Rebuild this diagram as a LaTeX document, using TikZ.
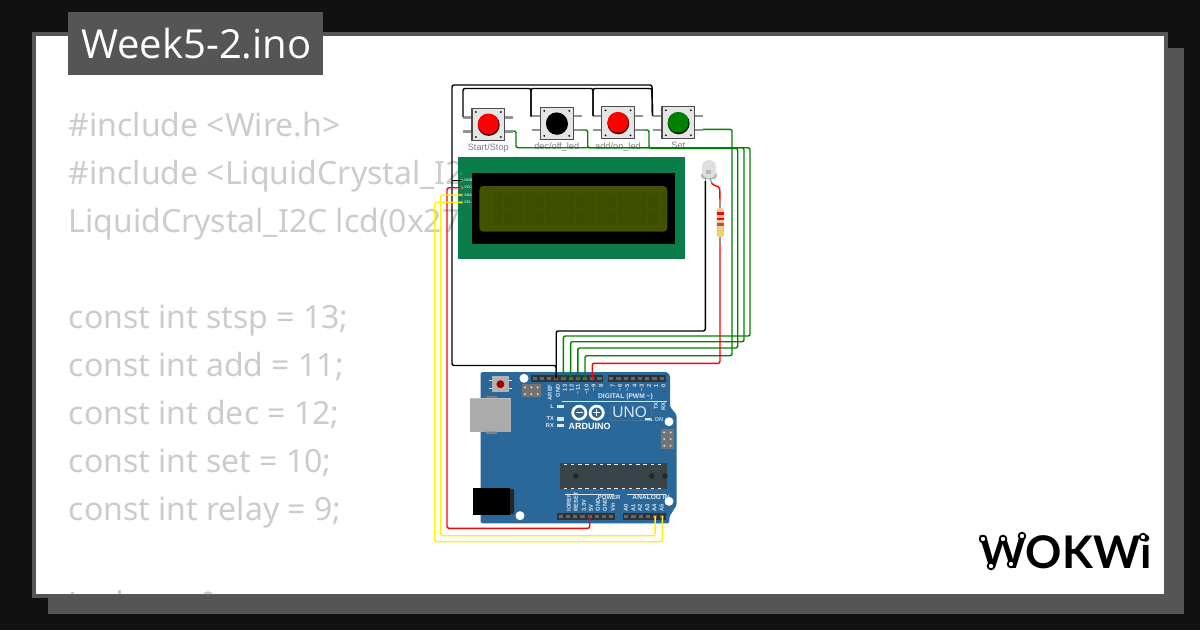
\documentclass[tikz,border=0pt]{standalone}
\usepackage{fontspec}
\setmainfont{Liberation Sans}
\newfontfamily\codefont{Noto Sans}
\newfontfamily\titlefont{Open Sans}
\newfontfamily\logofont{Lato}
\definecolor{pagebg}{HTML}{111111}
\definecolor{frame}{HTML}{555555}
\definecolor{codegray}{HTML}{CCCCCC}
\definecolor{lcdgreen}{HTML}{0A7D4A}
\definecolor{lcdscreen}{HTML}{415300}
\definecolor{lcdcell}{HTML}{3D4E00}
\definecolor{board}{HTML}{2A689A}
\definecolor{boardtext}{HTML}{DDE6EE}
\definecolor{wgreen}{HTML}{008000}
\tikzset{
  code/.style={anchor=base west,text=codegray,font=\codefont\fontsize{32}{32}\selectfont,inner sep=0pt},
  wire/.style={line width=1.4pt,rounded corners=2pt},
  pinstub/.style={line width=2.2pt,draw=gray!85},
  btnlabel/.style={text=gray,font=\fontsize{9.2}{9.2}\selectfont,inner sep=0pt},
  lcdpin/.style={anchor=west,text=white!85!black,font=\bfseries\fontsize{3.6}{3.6}\selectfont,inner sep=0pt},
  boardlabel/.style={text=boardtext,font=\bfseries\fontsize{5.7}{5.7}\selectfont,inner sep=0pt},
  boardup/.style={boardlabel,rotate=90},
  hdr/.style={fill=black!80},
  hole/.style={fill=black!60},
  ring/.style={draw=black,line width=1.8pt,fill=white},
}
% x y n: one pin header, n pins
\newcommand{\pinrow}[3]{%
  \fill[hdr] (#1,#2) rectangle ++(#3*7.2+0.3,6.8);
  \foreach \k in {1,...,#3}
    \fill[hole] ({#1+(\k-1)*7.2+1.5},#2+1.8) rectangle ++(4.2,3.2);
}
% cx cy colour
\newcommand{\pushbtn}[3]{%
  \draw[pinstub] (#1-25,#2-7) -- (#1+25,#2-7);
  \draw[pinstub] (#1-25,#2+7) -- (#1+25,#2+7);
  \fill[black!10,draw=black!70,line width=1.2pt] (#1-16.4,#2-16) rectangle (#1+16.4,#2+16);
  \foreach \sx in {-1,1} \foreach \sy in {-1,1}
    \fill[black] (#1+\sx*12.5,#2+\sy*12.5) circle[radius=1];
  \fill[black!75!#3] (#1+0.3,#2+0.5) circle[radius=11];
  \fill[#3] (#1-0.1,#2-0.5) circle[radius=10.4];
}
\begin{document}
\begin{tikzpicture}[x=1pt,y=-1pt]
\useasboundingbox (0,0) rectangle (1200,630);
\fill[pagebg] (0,0) rectangle (1200,630);
% frame and shadow
\fill[frame] (48,48) rectangle (1184,614);
\fill[frame] (32,32) rectangle (1168,598);
\fill[white] (36,36) rectangle (1164,594);
\fill[frame] (68,12) rectangle (323,75);
\node[anchor=base west,text=white,font=\titlefont\fontsize{40}{40}\selectfont,inner sep=0pt] (title) at (81,58) {Week5-2.ino};
% sketch text
\node[code] (c1) at (68.5,136) {\#include <Wire.h>};
\node[code] (c2) at (68.5,184) {\#include <LiquidCrystal\_I2};
\node[code] (c3) at (68.5,232) {LiquidCrystal\_I2C lcd(0x27};
\node[code] (c4) at (68.5,328) {const int stsp = 13;};
\node[code] (c5) at (68.5,376) {const int add = 11;};
\node[code] (c6) at (68.5,424) {const int dec = 12;};
\node[code] (c7) at (68.5,472) {const int set = 10;};
\node[code] (c8) at (68.5,520) {const int relay = 9;};
% tops of the next line, cut by the frame
\fill[codegray] (70.5,591.5) rectangle (73.5,594);
\fill[codegray] (118,590) rectangle (121,594);
\fill[codegray] (203,594) .. controls (205,590.5) and (211,590.5) .. (213,594) -- cycle;
% logo
\node[anchor=base west,text=black,font=\logofont\bfseries\fontsize{45}{45}\selectfont,inner sep=0pt] (logo) at (979,568) {WOKWi};
\foreach \p/\q in {983/539,1003/539,1022/536,991/566,1011/564,1143/537}
  \filldraw[ring] (\p,\q) circle[radius=3.3];
% buttons
\pushbtn{488.4}{124.4}{red}
\pushbtn{556.7}{123.3}{black}
\pushbtn{618}{122.8}{red}
\pushbtn{678.3}{122.8}{wgreen}
\node[btnlabel] (l1) at (488.3,148) {Start/Stop};
\node[btnlabel] (l2) at (556.7,146.6) {dec/off\_led};
\node[btnlabel] (l3) at (618,146.6) {add/on\_led};
\node[btnlabel] (l4) at (678.3,145.6) {Set};
% lcd
\fill[lcdgreen] (458,156.7) rectangle (685.3,258.7);
\fill[black] (472,172.7) rectangle (674.7,244.3);
\fill[lcdscreen,rounded corners=4pt] (479.3,186) rectangle (667.3,231.7);
\foreach \i in {0,...,15}
  \foreach \j in {0,1}
    \fill[lcdcell] ({493.5+\i*10.3},{192.5+\j*16.6}) rectangle ++(9.2,15.4);
\node[lcdpin,font=\fontsize{3.6}{3.6}\selectfont] (pone) at (459.8,174.3) {1};
\foreach \n/\q/\t in {g/180.3/GND,v/187.7/VCC,a/195/SDA,c/202.3/SCL}{
  \fill[black!35!brown!70] (461.7,\q) circle[radius=1.9];
  \node[lcdpin] (lbl\n) at (464.2,\q) {\t};
}
% led and resistor
\fill[black!28,rounded corners=3pt] (701,172) rectangle (717,179);
\fill[black!13,rounded corners=6.5pt] (702,160) rectangle (716,178);
\fill[black!28] (706,170) rectangle (711,174);
\draw[pinstub,line width=1.3pt] (705.3,178) -- (705.3,182);
\draw[pinstub,line width=1.3pt] (710,178) -- (711.7,183);
\draw[pinstub,line width=1.3pt] (720,201) -- (720,243);
\fill[orange!35!brown!45!white,rounded corners=2.5pt] (716.6,208) rectangle (724,237);
\fill[red] (716.6,212) rectangle (724,214.8);
\fill[red] (716.6,217.5) rectangle (724,220.3);
\fill[brown!80!black] (716.6,223) rectangle (724,225.8);
\fill[yellow!85!orange] (716.6,231.5) rectangle (724,234.3);
% arduino board
\fill[board,rounded corners=1.5pt] (480.7,372) -- (667,372) -- (670,375) -- (670,406.7) -- (676.7,415) -- (676.7,505) -- (669.3,516.7) -- (669.3,523.3) -- (480.7,523.3) -- cycle;
\pinrow{531}{375.3}{10}
\pinrow{607.7}{375.3}{8}
\pinrow{557.3}{512.7}{8}
\pinrow{622.7}{512.7}{6}
% reset button
\draw[pinstub,draw=boardtext,line width=1pt] (489,380) -- (512,380) (489,388) -- (512,388);
\fill[black!30] (491.7,376) rectangle (509,392.3);
\fill[red!65!black] (500.4,384.2) circle[radius=4];
% mounting holes
\foreach \p/\q in {524/378.3,669/421.7,520/515.7,669/501.3}
  \fill[white] (\p,\q) circle[radius=4.5];
% usb and power jack
\fill[black!33] (470,397.7) rectangle (510.7,431.7);
\fill[black!50] (486,396) rectangle (497,397.7) (486,431.7) rectangle (497,434);
\fill[black!25] (470,397.7) rectangle (510,398.6);
\fill[black] (473.3,488.3) rectangle (510,515);
\fill[black!85,rounded corners=1pt] (510,489) rectangle (514,514);
% icsp
\foreach \p/\q/\c/\r in {521.7/384/3/2,661/429/2/3}{
  \fill[black!55] (\p,\q) rectangle ++(\c*6.4+0.2,\r*6.7);
  \foreach \a in {1,...,\c} \foreach \b in {1,...,\r}
    \fill[black!15] ({\p+(\a-.5)*6.4},{\q+(\b-.5)*6.7}) circle[radius=1.1];
}
% ic
\fill[black!75!board!60!gray] (560,463.3) rectangle (666.7,489.3);
\foreach \i in {0,...,13}{
  \fill[white!85!gray] ({563.5+\i*7.25},463.8) rectangle ++(3.6,1.3);
  \fill[white!85!gray] ({563.5+\i*7.25},487.5) rectangle ++(3.6,1.3);
}
\foreach \p in {575.7,651.7,665}
  \fill[black!85] (\p,476) circle[radius=2.8];
% silk screen
\draw[boardtext,line width=.6pt] (561.7,401.7) -- (667,401.7);
\draw[boardtext,line width=.6pt] (565,494.5) -- (614,494.5) (627,494.5) -- (666,494.5);
\foreach \n/\p/\t in {a/550/AREF,b/558/GND,c/565/13,d/571.7/12,e/578/\textasciitilde 11,f/586.7/\textasciitilde 10,g/593.7/\textasciitilde 9,h/601/8,i/612.7/7,j/620/\textasciitilde 6,k/627.3/\textasciitilde 5,l/634.7/4,m/641.7/\textasciitilde 3,o/649/2,p/656/1,q/663.3/0}
  \node[boardup,anchor=east] (dl\n) at (\p,384.5) {\t};
\node[boardup,anchor=east] (dtx) at (656,402) {TX};
\node[boardup,anchor=east] (drx) at (663.3,402) {RX};
\node[boardlabel,font=\bfseries\fontsize{6.7}{6.7}\selectfont] (dig) at (625.5,397.2) {DIGITAL (PWM \textasciitilde)};
\foreach \n/\p/\t in {a/569/IOREF,b/576/RESET,c/584/3.3V,d/591/5V,e/598/GND,f/605/GND,g/612.7/Vin,h/626/A0,i/633.3/A1,j/640/A2,k/647.3/A3,l/654.3/A4,m/661.7/A5}
  \node[boardup,anchor=west] (al\n) at (\p,511.5) {\t};
\node[boardlabel,font=\bfseries\fontsize{6}{6}\selectfont] (pow) at (609.2,497) {POWER};
\node[boardlabel,font=\bfseries\fontsize{6.6}{6.6}\selectfont] (ana) at (651,497) {ANALOG IN};
\node[boardlabel,anchor=east] (lL) at (554,406.7) {L};
\node[boardlabel,anchor=east] (lT) at (554,419) {TX};
\node[boardlabel,anchor=east] (lR) at (554,425.7) {RX};
\foreach \q in {406.7,419,425.7}
  \fill[boardtext] (557.3,\q-1.7) rectangle (564.3,\q+1.7);
\fill[boardtext] (644.5,417.6) rectangle (651.5,421);
\node[boardlabel,anchor=west,text=boardtext!80!board] (lON) at (654.5,419.3) {ON};
% arduino logo
\draw[white,line width=2.7pt] (579.3,412.7) circle[radius=6.6] (596.7,412.7) circle[radius=6.6];
\draw[white,line width=1.2pt] (575.8,412.7) -- (582.8,412.7) (593.2,412.7) -- (600.2,412.7) (596.7,409.2) -- (596.7,416.2);
\node[boardlabel,text=white,font=\bfseries\fontsize{9}{9}\selectfont] (ard) at (589.7,426) {ARDUINO};
\draw[board!85!white,line width=.5pt,rounded corners=3pt] (610,405) rectangle (651.7,420.7);
\node[boardlabel,font=\fontsize{15.5}{15.5}\selectfont,text=boardtext] (uno) at (629.7,412) {UNO};
% pins
\coordinate (b1a) at (463,116.8);
\coordinate (b2a) at (531,116.6);
\coordinate (b3a) at (593,115.8);
\coordinate (b4a) at (652.5,115.8);
\coordinate (b1g) at (513,131);
\coordinate (b2g) at (581.5,130);
\coordinate (b3g) at (643,130);
\coordinate (b4g) at (703,129.3);
\coordinate (lgnd) at (461.7,180.3);
\coordinate (lvcc) at (461.7,187.7);
\coordinate (lsda) at (461.7,195);
\coordinate (lscl) at (461.7,202.3);
\coordinate (ledc) at (705.3,181);
\coordinate (leda) at (711.7,183);
\coordinate (rtop) at (720,201);
\coordinate (rbot) at (720,243);
\coordinate (dgnd) at (556.2,378.5);
\coordinate (d13) at (563.4,378.5);
\coordinate (d12) at (570.6,378.5);
\coordinate (d11) at (577.8,378.5);
\coordinate (d10) at (585,378.5);
\coordinate (d9) at (592.2,378.5);
\coordinate (a5v) at (589.7,516);
\coordinate (aa4) at (655.1,516);
\coordinate (aa5) at (662.3,516);
% wires
\draw[wire,black] (b4a) -- (652,85) -- (452,85) -- (452,365.5) -- (556.2,365.5) -- (dgnd);
\draw[wire,black] (lgnd) -- (452,180.3);
\draw[wire,black] (b1a) -- (463,88.5) -- (531,88.5) -- (b2a);
\draw[wire,black] (b2a) -- (531,88.5) -- (593,88.5) -- (b3a);
\draw[wire,black] (b3a) -- (593,88.5) -- (652,88.5) -- (b4a);
\draw[wire,black] (ledc) -- (705.3,331) -- (556.2,331) -- (dgnd);
\draw[wire,wgreen] (b1g) -- (516,131) -- (516,147.7) -- (750,147.7) -- (750,336) -- (563.4,336) -- (d13);
\draw[wire,wgreen] (b2g) -- (587.7,130) -- (587.7,147.7) -- (744,147.7) -- (744,341.7) -- (570.6,341.7) -- (d12);
\draw[wire,wgreen] (b3g) -- (649,130) -- (649,148.3) -- (737.7,148.3) -- (737.7,348) -- (577.8,348) -- (d11);
\draw[wire,wgreen] (b4g) -- (732,129.3) -- (732,355.7) -- (585,355.7) -- (d10);
\draw[wire,red] (leda) -- (713.5,185.5) -- (719.7,186.7) -- (rtop);
\draw[wire,red] (rbot) -- (720,363.3) -- (592.2,363.3) -- (d9);
\draw[wire,red] (a5v) -- (589.7,528.3) -- (447,528.3) -- (447,187.7) -- (lvcc);
\draw[wire,yellow] (aa4) -- (655.1,535.7) -- (440.7,535.7) -- (440.7,195) -- (lsda);
\draw[wire,yellow] (aa5) -- (662.3,541.7) -- (434.7,541.7) -- (434.7,202.3) -- (lscl);
\end{tikzpicture}
\end{document}
